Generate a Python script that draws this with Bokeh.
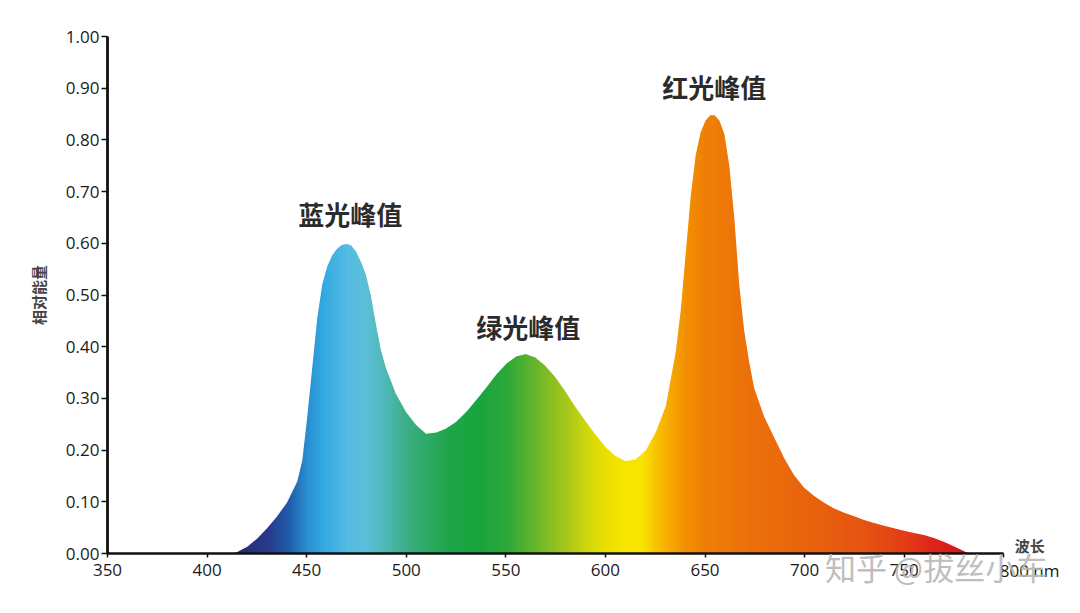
import numpy as np
from bokeh.plotting import figure
from bokeh.models import FixedTicker, NumeralTickFormatter, Label, LinearAxis
from bokeh.embed import file_html
from bokeh.resources import INLINE

# ---------------- data ----------------
wavelength = [412, 415, 420, 425, 430, 435, 440, 445, 447.5, 450, 452.5, 455, 457.5,
              460, 462.5, 465, 467.5, 470, 472.5, 475, 477.5, 480, 482.5, 485, 487.5,
              490, 495, 500, 505, 510, 515, 520, 525, 530, 535, 540, 545, 550, 555,
              560, 565, 570, 575, 580, 585, 590, 595, 600, 605, 610, 615, 620, 625,
              630, 635, 637.5, 640, 642.5, 645, 647.5, 650, 652.5, 655, 657.5, 660,
              662.5, 665, 667.5, 670, 672.5, 675, 680, 685, 690, 695, 700, 705, 710,
              715, 720, 725, 730, 735, 740, 745, 750, 755, 760, 765, 770, 775, 780, 783]
energy = [0.0, 0.004, 0.014, 0.03, 0.05, 0.073, 0.1, 0.14, 0.18, 0.265, 0.36, 0.455, 0.52,
          0.555, 0.577, 0.59, 0.598, 0.6, 0.597, 0.585, 0.565, 0.54, 0.5, 0.445, 0.395,
          0.36, 0.31, 0.275, 0.25, 0.233, 0.235, 0.243, 0.256, 0.275, 0.298, 0.322, 0.347,
          0.368, 0.382, 0.387, 0.38, 0.364, 0.342, 0.315, 0.285, 0.258, 0.232, 0.208, 0.19,
          0.18, 0.183, 0.2, 0.235, 0.285, 0.39, 0.47, 0.58, 0.69, 0.77, 0.815, 0.838,
          0.849, 0.849, 0.838, 0.812, 0.75, 0.65, 0.52, 0.43, 0.37, 0.32, 0.265, 0.225,
          0.185, 0.152, 0.128, 0.112, 0.099, 0.088, 0.08, 0.073, 0.066, 0.06, 0.055, 0.05,
          0.045, 0.041, 0.037, 0.031, 0.024, 0.015, 0.006, 0.0]

x_ticks = [350, 400, 450, 500, 550, 600, 650, 700, 750, 800]
y_ticks = [0.0, 0.1, 0.2, 0.3, 0.4, 0.5, 0.6, 0.7, 0.8, 0.9, 1.0]

peak_labels = ["蓝光峰值", "绿光峰值", "红光峰值"]
peak_x = [471.9, 561.2, 654.6]
peak_y = [0.658, 0.439, 0.903]

unit_label = "800 nm"
unit_label_x = 813
axis_name_x = "波长"
watermark = "知乎 @拔丝小车"
watermark_x = 766

# spectrum colour stops (wavelength -> colour)
stop_nm = [412, 430, 440, 450, 458, 470, 480, 490, 500, 510, 520, 535, 550, 560, 570,
           580, 590, 600, 610, 618, 625, 632, 640, 650, 670, 700, 730, 750, 765, 785]
stop_hex = ["#26286f", "#283a8c", "#1f5aa8", "#2a90d3", "#35aae2", "#55bde4", "#5cbfd8",
            "#4db8b4", "#3caf86", "#2eaa66", "#1fa64c", "#18a53d", "#2da83a", "#55b22f",
            "#7fbd25", "#a8c81a", "#cfd80c", "#ecdf02", "#f8e600", "#fae300", "#f9c400",
            "#f7a800", "#f39000", "#ef7f05", "#ec720a", "#e9640e", "#e65412", "#e33e16",
            "#dd241a", "#d4101e"]

# ---------------- figure ----------------
p = figure(frame_width=960, frame_height=517, x_range=(350, 832), y_range=(0, 1.0),
           output_backend="svg", toolbar_location=None,
           min_border_left=107, min_border_right=13, min_border_top=36, min_border_bottom=0)
p.background_fill_color = "white"
p.border_fill_color = "white"
p.outline_line_color = None
p.xgrid.visible = False
p.ygrid.visible = False

# gradient fill: colour image masked by white above the curve
cols = np.arange(wavelength[0], wavelength[-1], 0.5)
rgb = np.array([[int(h[i:i + 2], 16) for i in (1, 3, 5)] for h in stop_hex], dtype=float)
r = np.interp(cols, stop_nm, rgb[:, 0])
g = np.interp(cols, stop_nm, rgb[:, 1])
b = np.interp(cols, stop_nm, rgb[:, 2])
img = np.empty((1, len(cols)), dtype=np.uint32)
view = img.view(dtype=np.uint8).reshape((1, len(cols), 4))
view[0, :, 0] = r.astype(np.uint8)
view[0, :, 1] = g.astype(np.uint8)
view[0, :, 2] = b.astype(np.uint8)
view[0, :, 3] = 255
p.image_rgba(image=[img], x=wavelength[0], y=0, dw=wavelength[-1] - wavelength[0], dh=0.9)

lo, hi = wavelength[0] - 4, wavelength[-1] + 4
mask_x = [lo] + list(wavelength) + [hi, hi, lo]
mask_y = [0] + list(energy) + [0, 0.95, 0.95]
p.patch(mask_x, mask_y, fill_color="white", line_color="white", line_width=1.2)

# ---------------- axes ----------------
for ax in (p.xaxis[0], p.yaxis[0]):
    ax.axis_line_color = "#111111"
    ax.major_tick_line_color = "#111111"
    ax.major_tick_line_width = 1.5
    ax.minor_tick_line_color = None
    ax.major_tick_in = 0
    ax.major_label_text_font = "Open Sans"
    ax.major_label_text_color = "#1a1a1a"
    ax.major_label_text_font_size = "17px"

p.xaxis.axis_line_width = 2.5
p.yaxis.axis_line_width = 2.8
p.xaxis.bounds = (350, 800)
p.xaxis.ticker = FixedTicker(ticks=x_ticks)
p.xaxis.major_label_overrides = {800: ""}
p.xaxis.major_tick_out = 4
p.xaxis.major_label_standoff = 6

p.yaxis.bounds = (0, 1)
p.yaxis.ticker = FixedTicker(ticks=y_ticks)
p.yaxis.formatter = NumeralTickFormatter(format="0.00")
p.yaxis.major_tick_out = 6
p.yaxis.major_label_standoff = 2
p.yaxis.axis_label = "相对能量"
p.yaxis.axis_label_text_font = "Noto Sans CJK SC"
p.yaxis.axis_label_text_font_style = "bold"
p.yaxis.axis_label_text_font_size = "15px"
p.yaxis.axis_label_text_color = "#444444"
p.yaxis.axis_label_standoff = 14

# extra label-only axes below the frame ("800 nm" and the watermark)
ax_unit = LinearAxis(ticker=FixedTicker(ticks=[unit_label_x]),
                     major_label_overrides={unit_label_x: unit_label},
                     axis_line_color=None, major_tick_line_color=None,
                     minor_tick_line_color=None, major_tick_out=0, major_tick_in=0,
                     major_label_standoff=-20, major_label_text_font="Open Sans",
                     major_label_text_font_size="17px", major_label_text_color="#1a1a1a")
p.add_layout(ax_unit, "below")
ax_wm = LinearAxis(ticker=FixedTicker(ticks=[watermark_x]),
                   major_label_overrides={watermark_x: watermark},
                   axis_line_color=None, major_tick_line_color=None,
                   minor_tick_line_color=None, major_tick_out=0, major_tick_in=0,
                   major_label_standoff=-41, major_label_text_font="Noto Sans CJK SC",
                   major_label_text_font_size="31px", major_label_text_color="#b5b5b5",
                   major_label_text_alpha=0.9)
p.add_layout(ax_wm, "below")

# ---------------- texts ----------------
for t, x, y in zip(peak_labels, peak_x, peak_y):
    p.add_layout(Label(x=x, y=y, text=t, text_align="center", text_baseline="middle",
                       text_font="Noto Sans CJK SC", text_font_style="bold",
                       text_font_size="26px", text_color="#2b2b2b"))

p.add_layout(Label(x=813, y=0.016, text=axis_name_x, text_align="center", text_baseline="middle",
                   text_font="Noto Sans CJK SC", text_font_style="bold",
                   text_font_size="15px", text_color="#444444"))

open("out.html", "w").write(file_html(p, INLINE))
